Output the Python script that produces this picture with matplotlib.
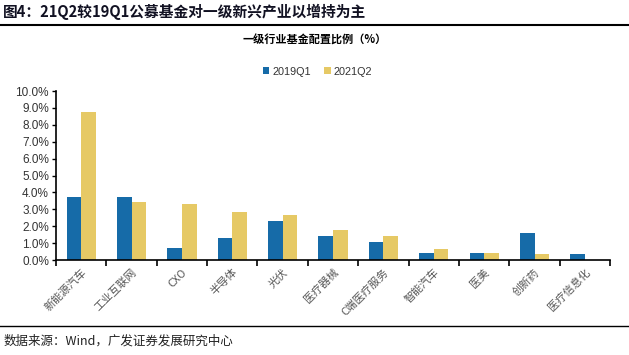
import matplotlib
matplotlib.use("Agg")
import matplotlib.pyplot as plt
import numpy as np
from matplotlib.lines import Line2D
from matplotlib.ticker import FuncFormatter, MultipleLocator

plt.rcParams['font.family'] = ['Noto Sans CJK SC', 'DejaVu Sans']

categories = ['新能源汽车', '工业互联网', 'CXO', '半导体', '光伏', '医疗器械',
              'C端医疗服务', '智能汽车', '医美', '创新药', '医疗信息化']
series_names = ['2019Q1', '2021Q2']
v2019q1 = [3.71, 3.71, 0.73, 1.32, 2.30, 1.42, 1.06, 0.40, 0.40, 1.62, 0.33]
v2021q2 = [8.78, 3.45, 3.31, 2.84, 2.67, 1.77, 1.42, 0.63, 0.40, 0.33, 0.0]

title = '图4：21Q2较19Q1公募基金对一级新兴产业以增持为主'
subtitle = '一级行业基金配置比例（%）'
source = '数据来源：Wind，广发证券发展研究中心'

blue = '#166BA8'
yellow = '#E6C965'

fig = plt.figure(figsize=(6.29, 3.55), dpi=100)
ax = fig.add_axes([0.089, 0.2676, 0.881, 0.476])

x = np.arange(len(categories))
w = 0.29
ax.bar(x - w/2, v2019q1, width=w, color=blue, label=series_names[0])
ax.bar(x + w/2, v2021q2, width=w, color=yellow, label=series_names[1])

ax.set_xlim(-0.5, len(categories) - 0.5)
ax.set_ylim(0, 10)
ax.yaxis.set_major_locator(MultipleLocator(1))
ax.yaxis.set_major_formatter(FuncFormatter(lambda v, p: f'{v:.1f}%'))
for s in ['top', 'right']:
    ax.spines[s].set_visible(False)
for s in ['left', 'bottom']:
    ax.spines[s].set_linewidth(1.2)
    ax.spines[s].set_color('black')

ax.set_xticks(np.arange(len(categories) + 1) - 0.5, minor=False)
ax.set_xticklabels([])
ax.set_xticks(x, minor=True)
ax.set_xticklabels(categories, minor=True, rotation=45, ha='right',
                   rotation_mode='anchor', fontsize=7.8, color='#555555')
ax.tick_params(axis='x', which='minor', length=0, pad=5)
ax.tick_params(axis='x', which='major', length=4, width=1.2, direction='out')
ax.tick_params(axis='y', length=3, width=1.0, labelsize=8.5, labelcolor='#333333',
               pad=2)
for lbl in ax.get_yticklabels():
    lbl.set_family(['Liberation Sans', 'DejaVu Sans'])
for lbl in ax.get_xticklabels(minor=True):
    lbl.set_family(['Noto Sans CJK SC', 'DejaVu Sans'])

ax.legend(loc='upper center', ncol=2, frameon=False, handlelength=0.6,
          handleheight=0.6, handletextpad=0.3, columnspacing=1.2,
          prop={'family': ['Liberation Sans'], 'size': 7.8}, labelcolor='#333333')
leg = ax.get_legend()
leg.set_bbox_to_anchor((0.505, 1 - 57/355), transform=fig.transFigure)

fig.text(0.005, 1 - 12/355, title, fontsize=10.6, fontweight='bold', va='center',
         ha='left', color='#111122')
fig.add_artist(Line2D([0, 1], [1 - 25/355, 1 - 25/355], color='black', lw=1.5,
                      transform=fig.transFigure))
fig.text(0.5, 1 - 40/355, subtitle, fontsize=8, fontweight='bold', ha='center',
         va='center', color='black')
fig.add_artist(Line2D([0, 1], [1 - 326/355, 1 - 326/355], color='black', lw=1.0,
                      transform=fig.transFigure))
fig.text(0.005, 1 - 341/355, source, fontsize=9, ha='left', va='center',
         color='#222222')

fig.savefig('out.png', dpi=100)
